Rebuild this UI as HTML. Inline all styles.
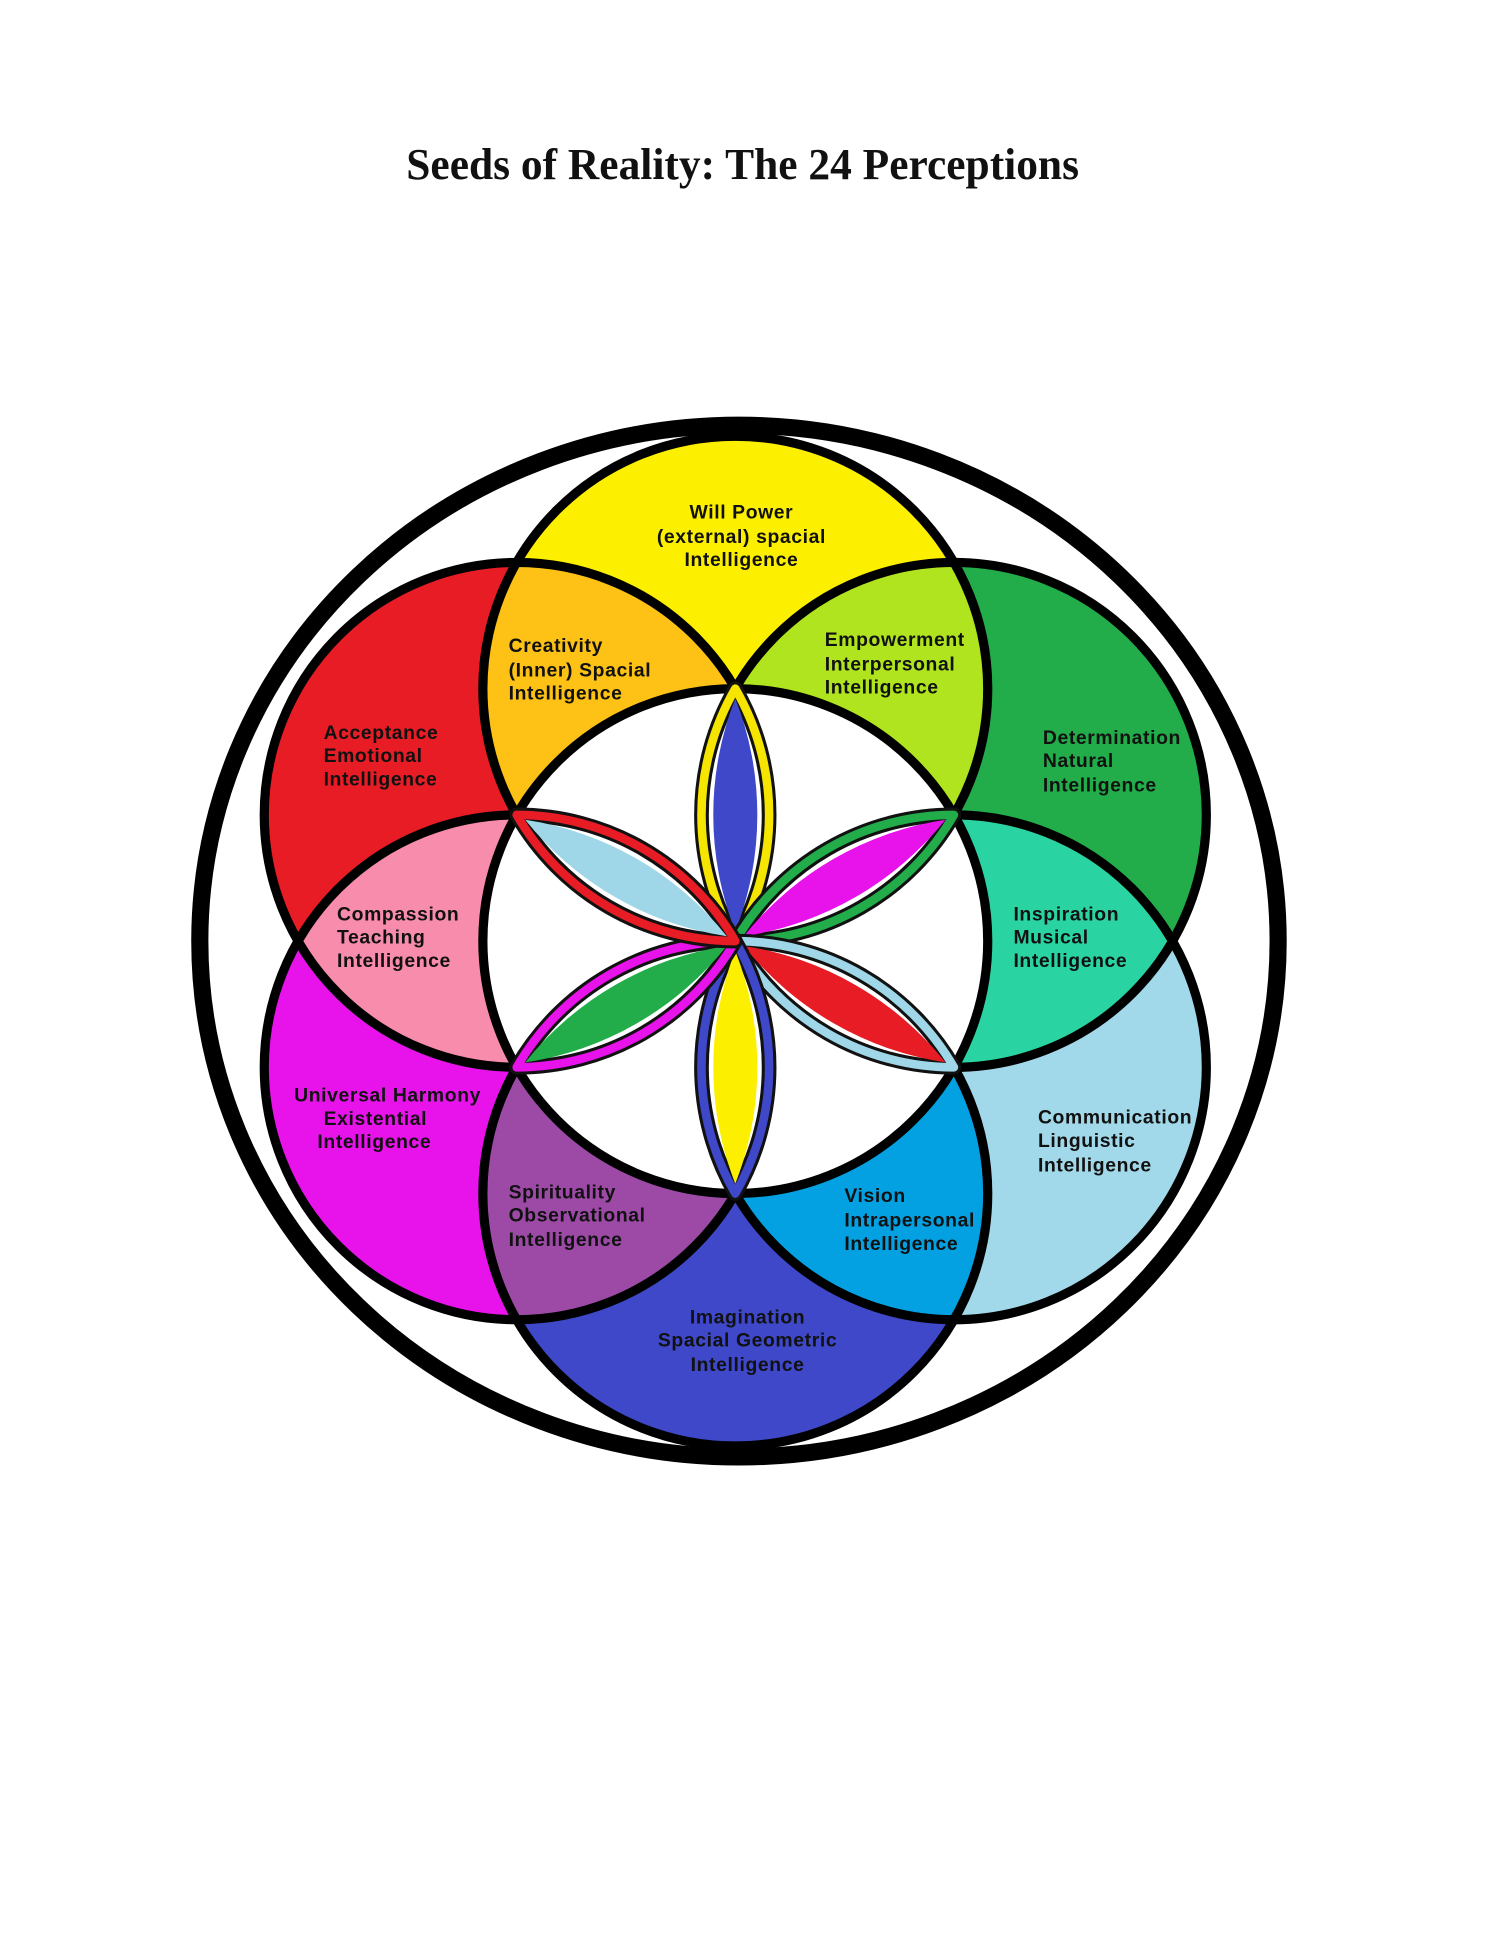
<!DOCTYPE html>
<html><head><meta charset="utf-8"><style>
html,body{margin:0;padding:0;background:#fff;}
svg{display:block;}
.l{font-family:"Liberation Sans",Arial,sans-serif;font-weight:bold;font-size:15.8px;letter-spacing:0.5px;fill:#111;}
</style></head><body>
<svg width="1500" height="1941" viewBox="0 0 1224 1584" xmlns="http://www.w3.org/2000/svg">
<defs>
<clipPath id="cUR"><circle cx="778.4" cy="665" r="206"/></clipPath>
<clipPath id="cLR"><circle cx="778.4" cy="871" r="206"/></clipPath>
<clipPath id="cB"><circle cx="600" cy="974" r="206"/></clipPath>
<clipPath id="cLL"><circle cx="421.6" cy="871" r="206"/></clipPath>
<clipPath id="cUL"><circle cx="421.6" cy="665" r="206"/></clipPath>
<path id="po" d="M600 768 A206 206 0 0 1 600 562 A206 206 0 0 1 600 768Z"/>
<path id="pi" d="M600 760 A260 260 0 0 1 600 570 A260 260 0 0 1 600 760Z"/>
</defs>
<text x="606" y="146" text-anchor="middle" font-family="'Liberation Serif',serif" font-weight="bold" font-size="36.5" textLength="549" lengthAdjust="spacingAndGlyphs" fill="#111">Seeds of Reality: The 24 Perceptions</text>

<circle cx="600" cy="562" r="206" fill="#fdef00"/>
<circle cx="778.4" cy="665" r="206" fill="#22ac4a"/>
<circle cx="778.4" cy="871" r="206" fill="#a2d9ea"/>
<circle cx="600" cy="974" r="206" fill="#3e48c9"/>
<circle cx="421.6" cy="871" r="206" fill="#e812ea"/>
<circle cx="421.6" cy="665" r="206" fill="#e81c24"/>
<circle cx="600" cy="562" r="206" fill="#fdc215" clip-path="url(#cUL)"/>
<circle cx="600" cy="562" r="206" fill="#b0e41f" clip-path="url(#cUR)"/>
<circle cx="778.4" cy="665" r="206" fill="#2ad4a2" clip-path="url(#cLR)"/>
<circle cx="778.4" cy="871" r="206" fill="#03a0e2" clip-path="url(#cB)"/>
<circle cx="600" cy="974" r="206" fill="#9c4aa6" clip-path="url(#cLL)"/>
<circle cx="421.6" cy="871" r="206" fill="#f78cac" clip-path="url(#cUL)"/>

<g fill="none" stroke="#000" stroke-width="7.5">
<circle cx="600" cy="562" r="206"/>
<circle cx="778.4" cy="665" r="206"/>
<circle cx="778.4" cy="871" r="206"/>
<circle cx="600" cy="974" r="206"/>
<circle cx="421.6" cy="871" r="206"/>
<circle cx="421.6" cy="665" r="206"/>
</g>
<circle cx="600" cy="768" r="206" fill="#fff" stroke="#000" stroke-width="7.5"/>

<g stroke-linejoin="round">
<g><use href="#po" fill="#fff" stroke="#111" stroke-width="12"/><use href="#po" fill="none" stroke="#f5e500" stroke-width="7"/><use href="#pi" fill="#3e48c9"/></g>
<g transform="rotate(60 600 768)"><use href="#po" fill="#fff" stroke="#111" stroke-width="12"/><use href="#po" fill="none" stroke="#22ac4a" stroke-width="7"/><use href="#pi" fill="#e812ea"/></g>
<g transform="rotate(120 600 768)"><use href="#po" fill="#fff" stroke="#111" stroke-width="12"/><use href="#po" fill="none" stroke="#9fd6e8" stroke-width="7"/><use href="#pi" fill="#e81c24"/></g>
<g transform="rotate(180 600 768)"><use href="#po" fill="#fff" stroke="#111" stroke-width="12"/><use href="#po" fill="none" stroke="#3e48c9" stroke-width="7"/><use href="#pi" fill="#fdef00"/></g>
<g transform="rotate(240 600 768)"><use href="#po" fill="#fff" stroke="#111" stroke-width="12"/><use href="#po" fill="none" stroke="#e812ea" stroke-width="7"/><use href="#pi" fill="#22ac4a"/></g>
<g transform="rotate(300 600 768)"><use href="#po" fill="#fff" stroke="#111" stroke-width="12"/><use href="#po" fill="none" stroke="#e81c24" stroke-width="7"/><use href="#pi" fill="#9fd6e8"/></g>
</g>

<ellipse cx="603" cy="768" rx="440" ry="421" fill="none" stroke="#000" stroke-width="14"/>

<g class="l">
<text x="605" y="423" text-anchor="middle">Will Power</text>
<text x="605" y="443" text-anchor="middle">(external) spacial</text>
<text x="605" y="462" text-anchor="middle">Intelligence</text>

<text x="415" y="532">Creativity</text>
<text x="415" y="552">(Inner) Spacial</text>
<text x="415" y="571">Intelligence</text>

<text x="673" y="527">Empowerment</text>
<text x="673" y="547">Interpersonal</text>
<text x="673" y="566">Intelligence</text>

<text x="264" y="603">Acceptance</text>
<text x="264" y="622">Emotional</text>
<text x="264" y="641">Intelligence</text>

<text x="851" y="607">Determination</text>
<text x="851" y="626">Natural</text>
<text x="851" y="646">Intelligence</text>

<text x="275" y="751">Compassion</text>
<text x="275" y="770">Teaching</text>
<text x="275" y="789">Intelligence</text>

<text x="827" y="751">Inspiration</text>
<text x="827" y="770">Musical</text>
<text x="827" y="789">Intelligence</text>

<text x="240" y="899">Universal Harmony</text>
<text x="264" y="918">Existential</text>
<text x="259" y="937">Intelligence</text>

<text x="847" y="917">Communication</text>
<text x="847" y="936">Linguistic</text>
<text x="847" y="956">Intelligence</text>

<text x="415" y="978">Spirituality</text>
<text x="415" y="997">Observational</text>
<text x="415" y="1017">Intelligence</text>

<text x="689" y="981">Vision</text>
<text x="689" y="1001">Intrapersonal</text>
<text x="689" y="1020">Intelligence</text>

<text x="610" y="1080" text-anchor="middle">Imagination</text>
<text x="610" y="1099" text-anchor="middle">Spacial Geometric</text>
<text x="610" y="1119" text-anchor="middle">Intelligence</text>
</g>
</svg>
</body></html>
